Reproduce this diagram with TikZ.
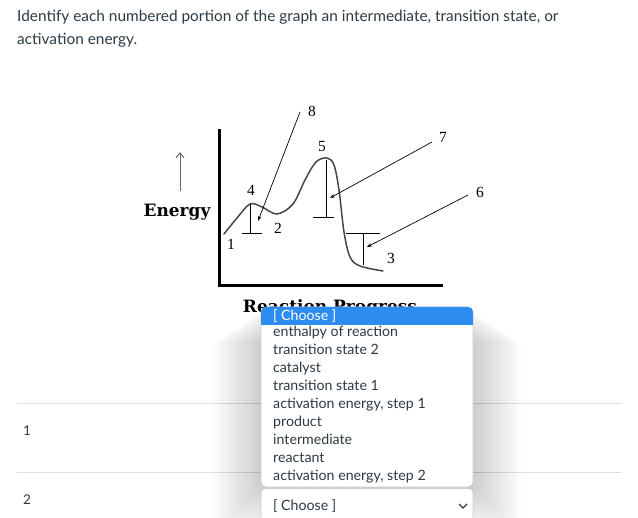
\documentclass[tikz,border=0pt]{standalone}
\usepackage{fontspec}
\setmainfont{Lato}
\newfontfamily\dserif{Liberation Serif}
\newfontfamily\bserif{DejaVu Serif}
\usetikzlibrary{arrows.meta}
\definecolor{txt}{HTML}{2D3B45}
\definecolor{selblue}{HTML}{2D8CF0}
\definecolor{sepgray}{HTML}{DDDDDD}
\definecolor{boxgray}{HTML}{C7CDD1}
\tikzset{
  qtext/.style={anchor=base west, inner sep=0pt, text=txt, font=\fontsize{15.4}{18}\selectfont},
  item/.style={anchor=base west, inner sep=0pt, text=txt, font=\fontsize{14.2}{16}\selectfont},
  lbl/.style={inner sep=0pt, font=\dserif\fontsize{15.5}{17}\selectfont},
  axis/.style={line width=3pt, black},
  curve/.style={line width=1.5pt, black!72, line cap=round},
  tbar/.style={line width=0.8pt, black},
  pointer/.style={line width=0.7pt, black, -{Stealth[length=5pt,width=3.5pt]}},
}
\begin{document}
\begin{tikzpicture}[x=1pt,y=-1pt]
\useasboundingbox[fill=white] (0,0) rectangle (638,518);
% question
\node[qtext] (q1) at (17,22) {Identify each numbered portion of the graph an intermediate, transition state, or};
\node[qtext] (q2) at (17,45) {activation energy.};
% separators and row numbers
\draw[sepgray, line width=0.8pt] (17,403) -- (621,403);
\draw[sepgray, line width=0.8pt] (17,472) -- (621,472);
\node[qtext, font=\fontsize{13.5}{15}\selectfont] (r1) at (23,436) {1};
\node[qtext, font=\fontsize{13.5}{15}\selectfont] (r2) at (23,505) {2};
% diagram
\draw[axis] (219,129) -- (219,285.5) -- (443,285.5);
\coordinate (upb) at (180,191);
\coordinate (upt) at (180,152);
\draw[-{Straight Barb[length=5pt,width=8pt]}, black!60, line width=1pt] (upb) -- (upt);
\node[inner sep=0pt, font=\bserif\bfseries\fontsize{17}{20}\selectfont] (energy) at (177,212) {Energy};
\draw[curve] plot[smooth, tension=0.55] coordinates {(224,234) (237,218) (250,204) (262,207) (277,214) (293,204) (305,180) (316,162) (327,158) (334,165) (339,190) (344,232) (350,257) (360,266) (383,271)};
% bars
\draw[tbar] (250,204) -- (250,233) (242,233) -- (262,233);
\draw[tbar] (326,160) -- (326,217) (313,217) -- (334,217);
\draw[tbar] (346,233) -- (380,233) (363,233) -- (363,265);
% labels
\node[lbl] (l8) at (312,111) {8};
\node[lbl] (l5) at (322,147) {5};
\node[lbl] (l7) at (443,137) {7};
\node[lbl] (l6) at (480,192) {6};
\node[lbl] (l4) at (251,190) {4};
\node[lbl] (l2) at (278,228) {2};
\node[lbl] (l1) at (231,244) {1};
\node[lbl] (l3) at (391,258) {3};
% pointers
\coordinate (s8) at (300,112); \coordinate (t8) at (258,221);
\coordinate (s7) at (432,142); \coordinate (t7) at (330,198);
\coordinate (s6) at (468,195); \coordinate (t6) at (367,247);
\draw[pointer] (s8) -- (t8);
\draw[pointer] (s7) -- (t7);
\draw[pointer] (s6) -- (t6);
\node[anchor=base, inner sep=0pt, font=\bserif\bfseries\fontsize{17}{20}\selectfont] (rp) at (330,313) {Reaction Progress};
% shadow of dropdown
\foreach \e in {1,...,16}{
  \fill[black, opacity=0.01, rounded corners=8pt] (261-3*\e,309+2*\e) rectangle (473+3*\e,487+3*\e);
}
% second select box
\draw[boxgray, fill=white, rounded corners=4pt, line width=0.8pt] (261,488.5) rectangle (473,530);
\node[item] (c2) at (273,511) {[ Choose ]};
\coordinate (ch1) at (459,504); \coordinate (ch2) at (463,508); \coordinate (ch3) at (467,504);
\draw[txt, line width=1.4pt] (ch1) -- (ch2) -- (ch3);
% dropdown list
\draw[boxgray, fill=white, rounded corners=5pt, line width=0.8pt] (261,307) rectangle (473,487);
\fill[selblue, rounded corners=5pt] (261,307) rectangle (473,318);
\fill[selblue] (261,314) rectangle (473,325);
\node[item, text=white] (c1) at (273,321) {[ Choose ]};
\node[item] (i1) at (273,337) {enthalpy of reaction};
\node[item] (i2) at (273,355) {transition state 2};
\node[item] (i3) at (273,373) {catalyst};
\node[item] (i4) at (273,391) {transition state 1};
\node[item] (i5) at (273,409) {activation energy, step 1};
\node[item] (i6) at (273,427) {product};
\node[item] (i7) at (273,445) {intermediate};
\node[item] (i8) at (273,463) {reactant};
\node[item] (i9) at (273,481) {activation energy, step 2};
\end{tikzpicture}
\end{document}
